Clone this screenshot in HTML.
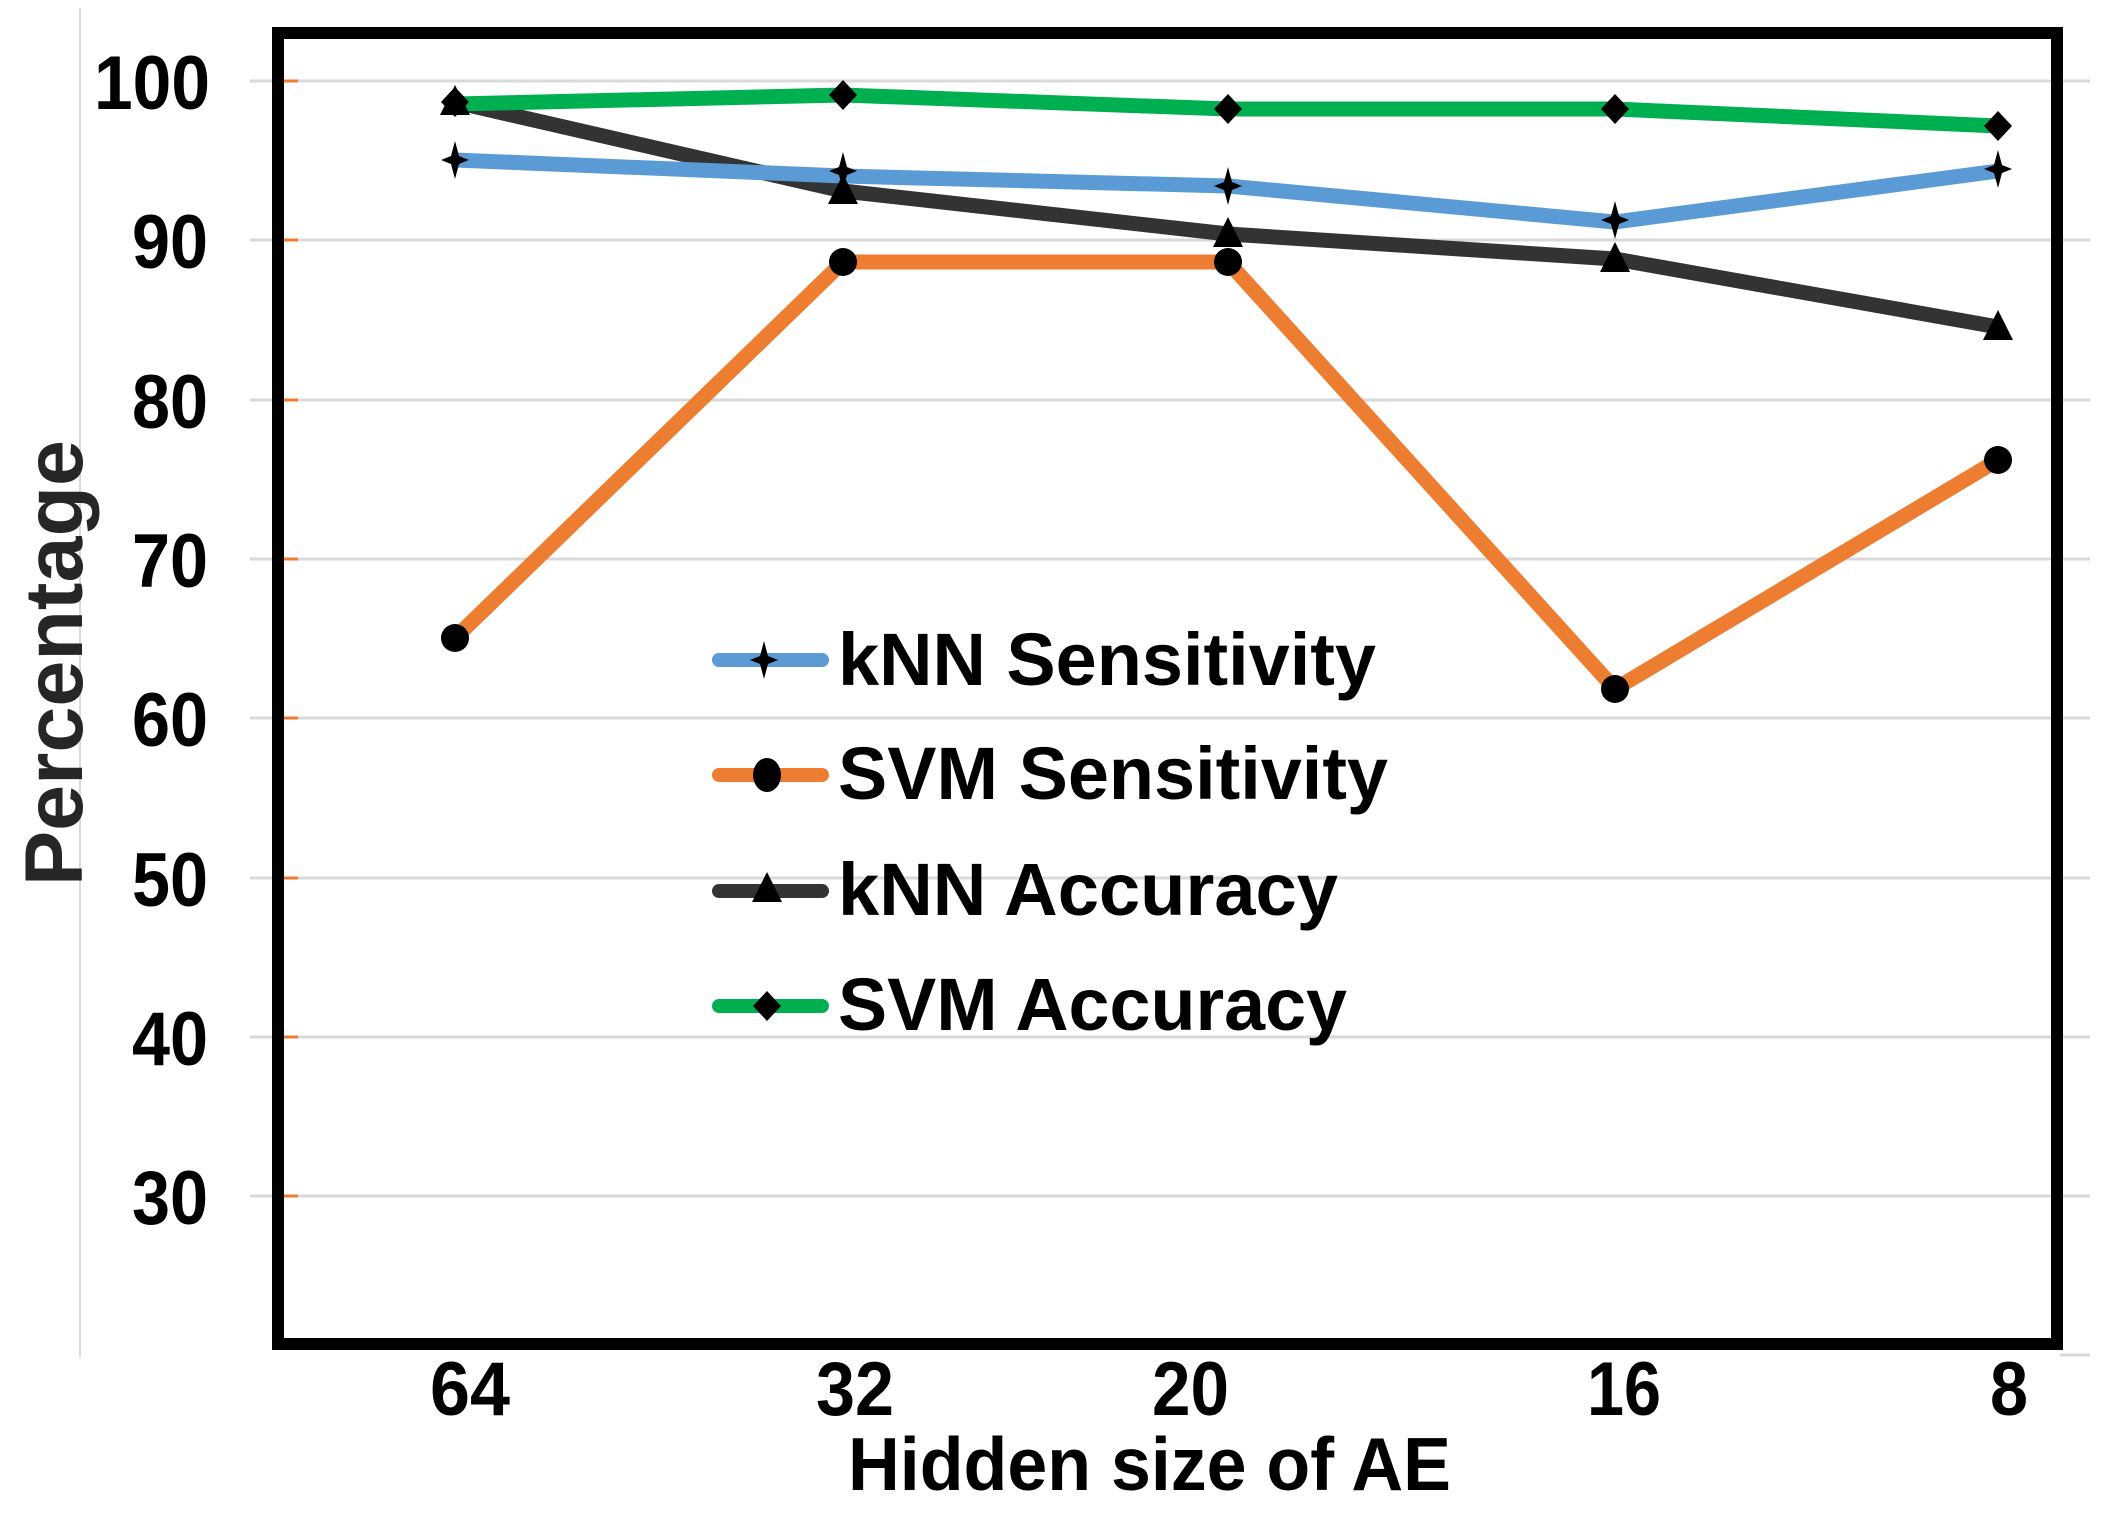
<!DOCTYPE html>
<html><head><meta charset="utf-8"><style>
html,body{margin:0;padding:0;background:#fff;}
svg{display:block;}
text{font-family:"Liberation Sans",Arial,sans-serif;font-weight:bold;}
</style></head><body>
<svg width="2111" height="1530" viewBox="0 0 2111 1530" xmlns="http://www.w3.org/2000/svg">
<defs>
<path id="star" d="M0,-19 L4,-4 L14,0 L4,4 L0,19 L-4,4 L-14,0 L-4,-4 Z" fill="#000"/>
<path id="dia" d="M0,-15 L14,0 L0,15 L-14,0 Z" fill="#000"/>
<path id="tri" d="M0,-17 L15,13 L-15,13 Z" fill="#000"/>
</defs>
<line x1="80" y1="8" x2="80" y2="1357" stroke="#d9d9d9" stroke-width="2"/>
<g stroke="#d9d9d9" stroke-width="3">
<line x1="250" y1="81" x2="2090" y2="81"/>
<line x1="250" y1="240" x2="2090" y2="240"/>
<line x1="250" y1="400" x2="2090" y2="400"/>
<line x1="250" y1="559" x2="2090" y2="559"/>
<line x1="250" y1="718" x2="2090" y2="718"/>
<line x1="250" y1="878" x2="2090" y2="878"/>
<line x1="250" y1="1037" x2="2090" y2="1037"/>
<line x1="250" y1="1196" x2="2090" y2="1196"/>
<line x1="2060" y1="1355" x2="2090" y2="1355"/>
</g>
<g stroke="#ed7d31" stroke-width="3">
<line x1="278" y1="81" x2="298" y2="81"/>
<line x1="278" y1="240" x2="298" y2="240"/>
<line x1="278" y1="400" x2="298" y2="400"/>
<line x1="278" y1="559" x2="298" y2="559"/>
<line x1="278" y1="718" x2="298" y2="718"/>
<line x1="278" y1="878" x2="298" y2="878"/>
<line x1="278" y1="1037" x2="298" y2="1037"/>
<line x1="278" y1="1196" x2="298" y2="1196"/>
</g>
<rect x="278" y="33" width="1779" height="1311" fill="none" stroke="#000" stroke-width="12"/>
<g font-size="76" text-anchor="end" fill="#000">
<text x="210" y="109" textLength="116" lengthAdjust="spacingAndGlyphs">100</text>
<text x="208" y="268" textLength="76" lengthAdjust="spacingAndGlyphs">90</text>
<text x="208" y="428" textLength="76" lengthAdjust="spacingAndGlyphs">80</text>
<text x="208" y="587" textLength="76" lengthAdjust="spacingAndGlyphs">70</text>
<text x="208" y="746" textLength="76" lengthAdjust="spacingAndGlyphs">60</text>
<text x="208" y="906" textLength="76" lengthAdjust="spacingAndGlyphs">50</text>
<text x="208" y="1065" textLength="76" lengthAdjust="spacingAndGlyphs">40</text>
<text x="208" y="1224" textLength="76" lengthAdjust="spacingAndGlyphs">30</text>
</g>
<g font-size="76" fill="#000">
<text x="430" y="1415" textLength="80" lengthAdjust="spacingAndGlyphs">64</text>
<text x="816" y="1415" textLength="78" lengthAdjust="spacingAndGlyphs">32</text>
<text x="1152" y="1415" textLength="77" lengthAdjust="spacingAndGlyphs">20</text>
<text x="1587" y="1415" textLength="74" lengthAdjust="spacingAndGlyphs">16</text>
<text x="1990" y="1415" textLength="38" lengthAdjust="spacingAndGlyphs">8</text>
</g>
<text x="848" y="1490" font-size="75" fill="#000" textLength="603" lengthAdjust="spacingAndGlyphs">Hidden size of AE</text>
<text transform="translate(82,886) rotate(-90)" font-size="82" fill="#262626" textLength="446" lengthAdjust="spacingAndGlyphs">Percentage</text>
<g fill="none" stroke-width="15" stroke-linejoin="round">
<polyline stroke="#ed7d31" points="455,638 843,262 1228,262 1615,689 1998,460"/>
<polyline stroke="#333333" points="455,102 843,191 1228,234 1615,259 1998,327"/>
<polyline stroke="#5b9bd5" points="455,160 843,176 1228,186 1615,222 1998,171"/>
<polyline stroke="#00b050" points="455,104 843,95 1228,109 1615,109 1998,126"/>
</g>
<g>
<circle cx="455" cy="638" r="14"/><circle cx="843" cy="262" r="14"/><circle cx="1228" cy="262" r="14"/><circle cx="1615" cy="689" r="14"/><circle cx="1998" cy="460" r="14"/>
<use href="#tri" x="455" y="102"/><use href="#tri" x="843" y="191"/><use href="#tri" x="1228" y="234"/><use href="#tri" x="1615" y="259"/><use href="#tri" x="1998" y="327"/>
<use href="#star" x="455" y="160"/><use href="#star" x="843" y="171"/><use href="#star" x="1228" y="186"/><use href="#star" x="1615" y="220"/><use href="#star" x="1998" y="169"/>
<use href="#dia" x="455" y="102"/><use href="#dia" x="843" y="95"/><use href="#dia" x="1228" y="109"/><use href="#dia" x="1615" y="109"/><use href="#dia" x="1998" y="126"/>
</g>
<g stroke-width="14" stroke-linecap="round">
<line x1="719" y1="660" x2="822" y2="660" stroke="#5b9bd5"/>
<line x1="719" y1="775" x2="822" y2="775" stroke="#ed7d31"/>
<line x1="719" y1="891" x2="822" y2="891" stroke="#333333"/>
<line x1="719" y1="1006" x2="822" y2="1006" stroke="#00b050"/>
</g>
<use href="#star" x="764" y="660"/>
<ellipse cx="767" cy="775" rx="14" ry="17"/>
<use href="#tri" x="767" y="889"/>
<use href="#dia" x="767" y="1006"/>
<g font-size="74" fill="#000">
<text x="838" y="685" textLength="538" lengthAdjust="spacingAndGlyphs">kNN Sensitivity</text>
<text x="838" y="799" textLength="550" lengthAdjust="spacingAndGlyphs">SVM Sensitivity</text>
<text x="838" y="915" textLength="500" lengthAdjust="spacingAndGlyphs">kNN Accuracy</text>
<text x="838" y="1030" textLength="509" lengthAdjust="spacingAndGlyphs">SVM Accuracy</text>
</g>
</svg>
</body></html>
